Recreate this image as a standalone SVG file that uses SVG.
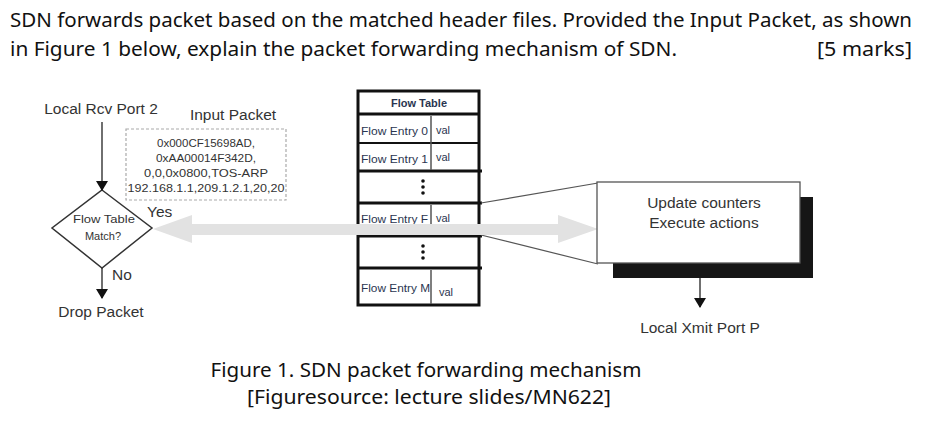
<svg xmlns="http://www.w3.org/2000/svg" width="928" height="423" viewBox="0 0 928 423">
<style>
.title{font-family:"Noto Sans","Open Sans",sans-serif;font-size:19px;fill:#111}
.lbl{font-family:"Liberation Sans",Arial,sans-serif;font-size:15.5px;fill:#333}
.sm{font-family:"Liberation Sans",Arial,sans-serif;font-size:11px;fill:#333}
.tbl{font-family:"Liberation Sans",Arial,sans-serif;font-size:11px;fill:#2a3550}
.thick{stroke:#111;stroke-width:3;fill:none}
.conn{stroke:#222;stroke-width:1.3;fill:none}
</style>
<defs>
<marker id="ah" markerWidth="10" markerHeight="12" refX="9" refY="6" orient="auto" markerUnits="userSpaceOnUse">
<path d="M0,0 L10,6 L0,12 Z" fill="#111"/>
</marker>
</defs>
<rect width="928" height="423" fill="#fff"/>
<g id="title">
<text class="title" x="10" y="27" textLength="902" lengthAdjust="spacingAndGlyphs">SDN forwards packet based on the matched header files. Provided the Input Packet, as shown</text>
<text class="title" x="10" y="56" textLength="667" lengthAdjust="spacingAndGlyphs">in Figure 1 below, explain the packet forwarding mechanism of SDN.</text>
<text class="title" x="817" y="56" textLength="95" lengthAdjust="spacingAndGlyphs">[5 marks]</text>
</g>
<g id="rcv-port">
<text class="lbl" x="101" y="114" text-anchor="middle">Local Rcv Port 2</text>
</g>
<g id="input-packet">
<text class="lbl" x="233" y="120" text-anchor="middle">Input Packet</text>
<rect x="126" y="129" width="160" height="71" fill="none" stroke="#aaa" stroke-width="1.2" stroke-dasharray="3,2"/>
<text class="sm" x="206" y="147" text-anchor="middle" font-size="11.5" textLength="98" lengthAdjust="spacingAndGlyphs">0x000CF15698AD,</text>
<text class="sm" x="206" y="162" text-anchor="middle" font-size="11.5" textLength="100" lengthAdjust="spacingAndGlyphs">0xAA00014F342D,</text>
<text class="sm" x="206" y="177" text-anchor="middle" font-size="11.5" textLength="124" lengthAdjust="spacingAndGlyphs">0,0,0x0800,TOS-ARP</text>
<text class="sm" x="206" y="192" text-anchor="middle" font-size="11.5" textLength="157" lengthAdjust="spacingAndGlyphs">192.168.1.1,209.1.2.1,20,20</text>
</g>
<g id="match">
<polygon points="102,190 152,228 102,268 52,228" fill="#fff" stroke="#333" stroke-width="1.5"/>
<text class="sm" x="104" y="223" text-anchor="middle" textLength="62" lengthAdjust="spacingAndGlyphs">Flow Table</text>
<text class="sm" x="103" y="240" text-anchor="middle">Match?</text>
<text class="lbl" x="147" y="217">Yes</text>
<text class="lbl" x="112" y="280">No</text>
</g>
<g id="drop">
<text class="lbl" x="101" y="317" text-anchor="middle">Drop Packet</text>
</g>
<g id="flow-table">
<rect x="358" y="91" width="121" height="214" fill="#fff" class="thick"/>
<line class="thick" x1="358" y1="114" x2="479" y2="114"/>
<line x1="358" y1="143" x2="479" y2="143" stroke="#111" stroke-width="2"/>
<line class="thick" x1="358" y1="171" x2="482" y2="171"/>
<line class="thick" x1="358" y1="203" x2="482" y2="203"/>
<line class="thick" x1="358" y1="236" x2="482" y2="236"/>
<line class="thick" x1="358" y1="268" x2="482" y2="268"/>
<line x1="431" y1="116" x2="431" y2="170" stroke="#555" stroke-width="1.5"/>
<line x1="431" y1="205" x2="431" y2="234" stroke="#555" stroke-width="1.5"/>
<line x1="431" y1="270" x2="431" y2="304" stroke="#555" stroke-width="1.5"/>
<text class="tbl" x="419" y="107" text-anchor="middle" font-weight="bold" fill="#222">Flow Table</text>
<text class="tbl" x="361" y="135" textLength="67" lengthAdjust="spacingAndGlyphs">Flow Entry 0</text>
<text class="tbl" x="436" y="134">val</text>
<text class="tbl" x="361" y="163" textLength="67" lengthAdjust="spacingAndGlyphs">Flow Entry 1</text>
<text class="tbl" x="436" y="161">val</text>
<g fill="#111"><circle cx="423" cy="181" r="1.8"/><circle cx="423" cy="187" r="1.8"/><circle cx="423" cy="193" r="1.8"/></g>
<text class="tbl" x="361" y="223" textLength="67" lengthAdjust="spacingAndGlyphs">Flow Entry F</text>
<text class="tbl" x="436" y="222">val</text>
<g fill="#111"><circle cx="423" cy="246" r="1.8"/><circle cx="423" cy="252" r="1.8"/><circle cx="423" cy="258" r="1.8"/></g>
<text class="tbl" x="361" y="292" textLength="69" lengthAdjust="spacingAndGlyphs">Flow Entry M</text>
<text class="tbl" x="439" y="296">val</text>
</g>
<g id="connectors">
<line class="conn" x1="102" y1="122" x2="102" y2="190" marker-end="url(#ah)"/>
<line class="conn" x1="102" y1="268" x2="102" y2="298" marker-end="url(#ah)"/>
<line x1="481" y1="203" x2="598" y2="183" stroke="#555" stroke-width="1.2"/>
<line x1="481" y1="235" x2="598" y2="264" stroke="#555" stroke-width="1.2"/>
<polygon points="153,229 192,215 192,224 558,224 558,215 598,229 558,243 558,235 192,235 192,243" fill="#e2e2e2"/>
<line class="conn" x1="700" y1="278" x2="700" y2="307" marker-end="url(#ah)"/>
</g>
<g id="actions">
<rect x="613" y="197" width="200" height="81" fill="#161616"/>
<rect x="597" y="182" width="203" height="81" fill="#fff" stroke="#555" stroke-width="1.3"/>
<text class="lbl" x="704" y="208" text-anchor="middle" font-size="14.5">Update counters</text>
<text class="lbl" x="704" y="228" text-anchor="middle" font-size="14.5">Execute actions</text>
</g>
<g id="xmit-port">
<text class="lbl" x="700" y="333" text-anchor="middle" font-size="14.5">Local Xmit Port P</text>
</g>
<g id="caption">
<text class="title" x="426" y="377" text-anchor="middle" font-size="20" textLength="431" lengthAdjust="spacingAndGlyphs">Figure 1. SDN packet forwarding mechanism</text>
<text class="title" x="429" y="404" text-anchor="middle" font-size="20" textLength="364" lengthAdjust="spacingAndGlyphs">[Figuresource: lecture slides/MN622]</text>
</g>
</svg>
